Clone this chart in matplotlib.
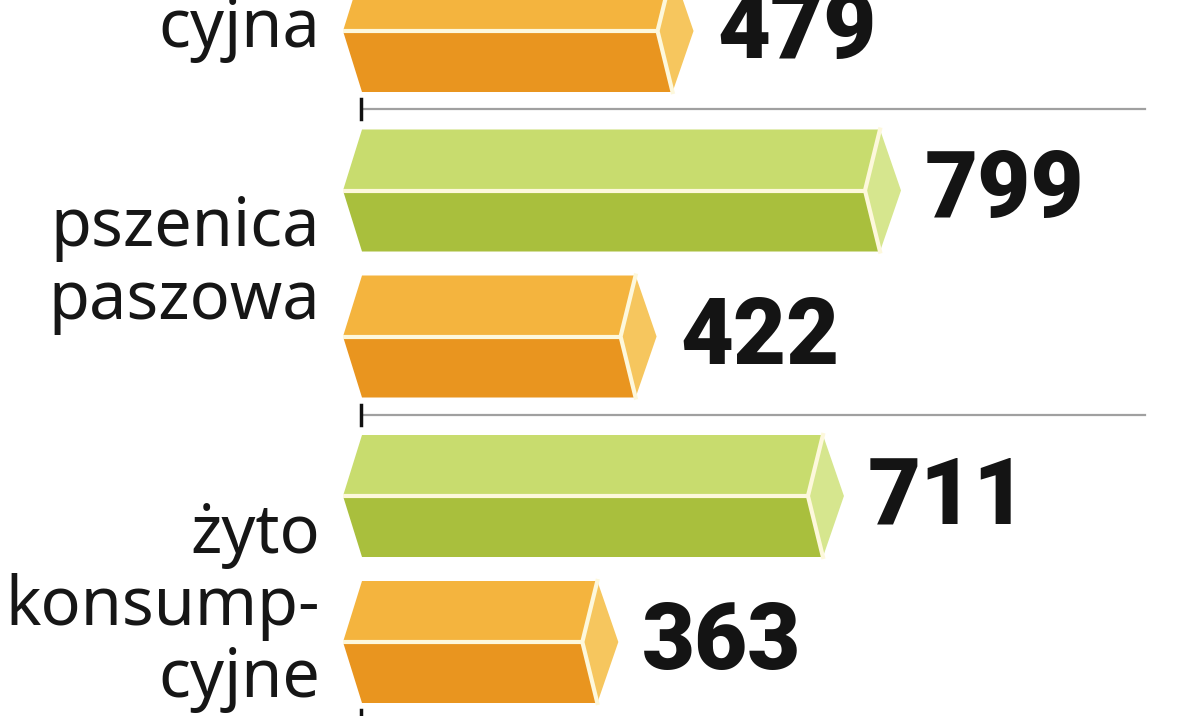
import numpy as np
import matplotlib.pyplot as plt
from matplotlib.patches import Polygon

# dane (górna grupa ucięta w kadrze - widać tylko koniec podpisu)
grupy = ['cyjna', 'pszenica\npaszowa', 'żyto\nkonsump-\ncyjne']
zielone = [None, 799, 711]
pomarancz = [479, 422, 363]

kolory = {
    'g': ('#c8dc6e', '#a9bf3d', '#d6e68e'),
    'o': ('#f4b43e', '#e9951f', '#f6c65e'),
}
krawedz = '#fdf8dc'

W, H = 1200, 716
fig = plt.figure(figsize=(W / 100, H / 100), dpi=100)
ax = fig.add_axes([0, 0, 1, 1])
x0 = 362
k = 518 / 799  # px na jednostkę
ax.set_xlim(-x0 / k, (W - x0) / k)
ax.set_ylim(H, 0)
ax.axis('off')

px = lambda p: p / k
h = 61
d, e, f = px(19), px(15), px(21)


def slupek(v, yc, typ):
    top, mid, bot = kolory[typ]
    t, b = yc - h, yc + h
    ax.add_patch(Polygon([(0, t), (v, t), (v - e, yc), (-d, yc)], closed=True,
                         fc=top, ec='none', zorder=3))
    ax.add_patch(Polygon([(-d, yc), (v - e, yc), (v, b), (0, b)], closed=True,
                         fc=mid, ec='none', zorder=3))
    ax.add_patch(Polygon([(v, t), (v + f, yc), (v, b), (v - e, yc)], closed=True,
                         fc=bot, ec='none', zorder=3))
    ax.plot([-d, v - e], [yc, yc], color=krawedz, lw=3, zorder=4,
            solid_capstyle='butt')
    ax.plot([v, v - e, v], [t, yc, b], color=krawedz, lw=3, zorder=4)
    ax.text(v + f + px(24), yc + 2, str(v), ha='left', va='center',
            fontsize=66, fontweight='black', family='Roboto', color='#141414')


przes_podpisu = [70, 0, 37]
for g, nazwa in enumerate(grupy):
    c = -41 + g * 305.5
    if zielone[g] is not None:
        slupek(zielone[g], c - 74, 'g')
    slupek(pomarancz[g], c + 72, 'o')

    ax.text(px(-42), c + przes_podpisu[g], nazwa, ha='right', va='center',
            fontsize=48, family='Noto Sans', color='#161616', linespacing=1.08)

    sep = c + 150
    ax.plot([0, px(1145 - x0)], [sep, sep], color='#a0a0a0', lw=1.6, zorder=1)
    ax.plot([px(-1), px(-1)], [sep - 10, sep + 10], color='#111111', lw=2.5, zorder=2)

plt.savefig('out.png', dpi=100)
